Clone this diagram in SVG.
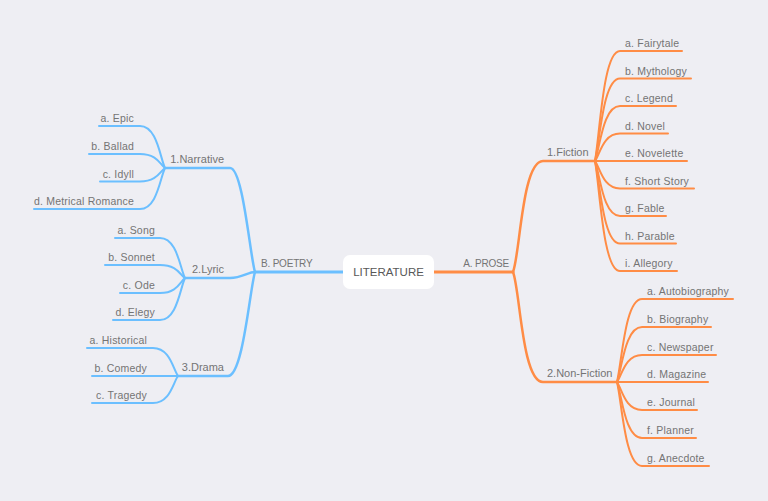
<svg xmlns="http://www.w3.org/2000/svg" width="768" height="501" viewBox="0 0 768 501">
<style>
.bg{fill:#EEEEF3}
.o{fill:none;stroke:#FF8C45;stroke-linecap:round;stroke-linejoin:round}
.b{fill:none;stroke:#6BBFFF;stroke-linecap:round;stroke-linejoin:round}
.l1{stroke-width:3}
.l2{stroke-width:2.5}
.l3{stroke-width:2}
text{font-family:"Liberation Sans",Arial,sans-serif;fill:#747474}
.t1{font-size:10px;letter-spacing:-0.2px}
.t2{font-size:11px}
.t3{font-size:10.5px;letter-spacing:0.2px}
.e{text-anchor:end}
.c{font-size:11.5px;fill:#585858;text-anchor:middle}
</style>
<rect class="bg" x="0" y="0" width="768" height="501"/>
<g id="connectors">
  <path class="o l1" d="M434,272 L513,272"/>
  <path class="o l2" d="M513,272 C520,255 522,161 543,161 L595,161"/>
  <path class="o l2" d="M513,272 C520,289 522,382 543,382 L617,382"/>
  <path class="b l1" d="M343,272 L255,272"/>
  <path class="b l2" d="M255,272 C250,256 243,168 230,168 L165,168"/>
  <path class="b l2" d="M255,272 C248,272 242,278 230,278 L185,278"/>
  <path class="b l2" d="M255,272 C250,288 243,376 228,376 L178,376"/>
  <path class="o l3" d="M595,161 C600,133.5 603,51 620,51 L682,51"/>
  <path class="o l3" d="M595,161 C600,140.4 603,78.5 620,78.5 L691,78.5"/>
  <path class="o l3" d="M595,161 C600,147.3 603,106 620,106 L676,106"/>
  <path class="o l3" d="M595,161 C600,154.1 603,133.5 620,133.5 L668,133.5"/>
  <path class="o l3" d="M595,161 L687,161"/>
  <path class="o l3" d="M595,161 C600,167.9 603,188.5 620,188.5 L694,188.5"/>
  <path class="o l3" d="M595,161 C600,174.8 603,216 620,216 L666,216"/>
  <path class="o l3" d="M595,161 C600,181.6 603,243.5 620,243.5 L676,243.5"/>
  <path class="o l3" d="M595,161 C600,188.5 603,271 620,271 L677,271"/>
  <path class="o l3" d="M617,382 C622,361.3 625,299 642,299 L733,299"/>
  <path class="o l3" d="M617,382 C622,368.3 625,327 642,327 L711,327"/>
  <path class="o l3" d="M617,382 C622,375.3 625,355 642,355 L716,355"/>
  <path class="o l3" d="M617,382 L708,382"/>
  <path class="o l3" d="M617,382 C622,389 625,410 642,410 L697,410"/>
  <path class="o l3" d="M617,382 C622,396 625,438 642,438 L696,438"/>
  <path class="o l3" d="M617,382 C622,403 625,466 642,466 L709,466"/>
  <path class="b l3" d="M165,168 C160,157.5 157,126 140,126 L99,126"/>
  <path class="b l3" d="M165,168 C160,164.5 157,154 140,154 L89,154"/>
  <path class="b l3" d="M165,168 C160,171.4 157,181.5 140,181.5 L100,181.5"/>
  <path class="b l3" d="M165,168 C160,178.3 157,209 140,209 L34,209"/>
  <path class="b l3" d="M185,278 C180,268 177,238 160,238 L115,238"/>
  <path class="b l3" d="M185,278 C180,274.8 177,265 160,265 L105,265"/>
  <path class="b l3" d="M185,278 C180,281.8 177,293 160,293 L120,293"/>
  <path class="b l3" d="M185,278 C180,288.5 177,320 160,320 L113,320"/>
  <path class="b l3" d="M178,376 C173,369 170,348 153,348 L87,348"/>
  <path class="b l3" d="M178,376 L92,376"/>
  <path class="b l3" d="M178,376 C173,382.8 170,403 153,403 L92,403"/>
</g>
<g id="literature">
  <rect x="343" y="255" width="91" height="34" rx="7" fill="#FFFFFF"/>
  <text class="c" x="388.5" y="276">LITERATURE</text>
</g>
<g id="prose"><text class="t1 e" x="509" y="267">A. PROSE</text></g>
<g id="poetry"><text class="t1" x="261" y="267">B. POETRY</text></g>
<g id="fiction"><text class="t2" x="547" y="156">1.Fiction</text></g>
<g id="nonfiction"><text class="t2" x="547" y="377">2.Non-Fiction</text></g>
<g id="narrative"><text class="t2 e" x="224" y="163">1.Narrative</text></g>
<g id="lyric"><text class="t2 e" x="224" y="273">2.Lyric</text></g>
<g id="drama"><text class="t2 e" x="224" y="371">3.Drama</text></g>
<g id="fairytale"><text class="t3" x="625" y="47">a. Fairytale</text></g>
<g id="mythology"><text class="t3" x="625" y="74.5">b. Mythology</text></g>
<g id="legend"><text class="t3" x="625" y="102">c. Legend</text></g>
<g id="novel"><text class="t3" x="625" y="129.5">d. Novel</text></g>
<g id="novelette"><text class="t3" x="625" y="157">e. Novelette</text></g>
<g id="shortstory"><text class="t3" x="625" y="184.5">f. Short Story</text></g>
<g id="fable"><text class="t3" x="625" y="212">g. Fable</text></g>
<g id="parable"><text class="t3" x="625" y="239.5">h. Parable</text></g>
<g id="allegory"><text class="t3" x="625" y="267">i. Allegory</text></g>
<g id="autobiography"><text class="t3" x="647" y="295">a. Autobiography</text></g>
<g id="biography"><text class="t3" x="647" y="323">b. Biography</text></g>
<g id="newspaper"><text class="t3" x="647" y="351">c. Newspaper</text></g>
<g id="magazine"><text class="t3" x="647" y="378">d. Magazine</text></g>
<g id="journal"><text class="t3" x="647" y="406">e. Journal</text></g>
<g id="planner"><text class="t3" x="647" y="434">f. Planner</text></g>
<g id="anecdote"><text class="t3" x="647" y="462">g. Anecdote</text></g>
<g id="epic"><text class="t3 e" x="134" y="122">a. Epic</text></g>
<g id="ballad"><text class="t3 e" x="134" y="150">b. Ballad</text></g>
<g id="idyll"><text class="t3 e" x="134" y="177.5">c. Idyll</text></g>
<g id="metrical"><text class="t3 e" x="134" y="205">d. Metrical Romance</text></g>
<g id="song"><text class="t3 e" x="155" y="234">a. Song</text></g>
<g id="sonnet"><text class="t3 e" x="155" y="261">b. Sonnet</text></g>
<g id="ode"><text class="t3 e" x="155" y="289">c. Ode</text></g>
<g id="elegy"><text class="t3 e" x="155" y="316">d. Elegy</text></g>
<g id="historical"><text class="t3 e" x="147" y="344">a. Historical</text></g>
<g id="comedy"><text class="t3 e" x="147" y="372">b. Comedy</text></g>
<g id="tragedy"><text class="t3 e" x="147" y="399">c. Tragedy</text></g>
</svg>
